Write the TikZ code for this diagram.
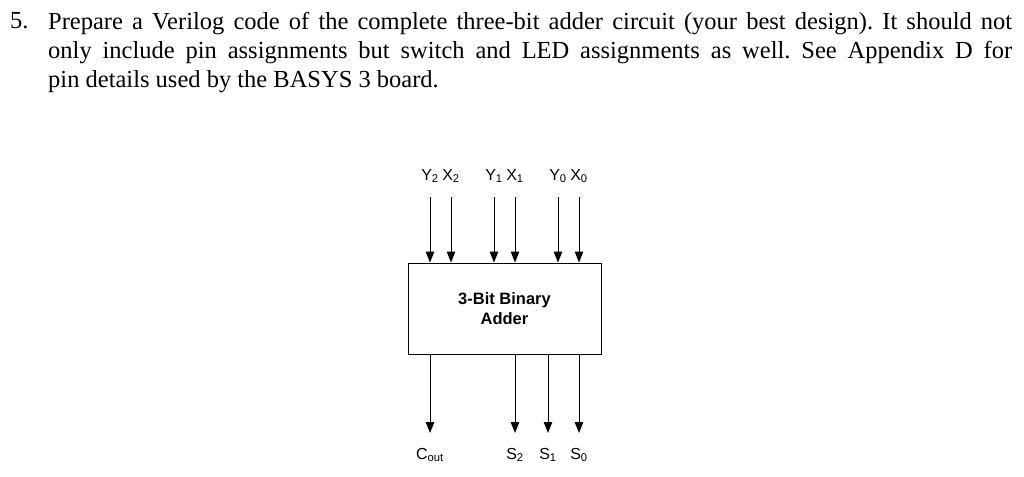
\documentclass[tikz,border=0pt]{standalone}
\usepackage{fontspec}
\setmainfont{Liberation Serif}
\newfontfamily\arial{Liberation Sans}
\usetikzlibrary{arrows.meta}
\newcommand{\sbs}[1]{\textsubscript{#1}}
\begin{document}
\begin{tikzpicture}[x=1pt,y=-1pt,
  sig/.style={-{Triangle[length=11pt,width=8.5pt]},line width=1pt},
  lab/.style={font=\arial\fontsize{16}{18}\selectfont,inner sep=0pt}]
\useasboundingbox (0,0) rectangle (1024,476);
\node[anchor=north west,inner sep=0pt] (num) at (10,12) {\fontsize{24.5}{29}\selectfont 5.};
\node[anchor=north west,inner sep=0pt,text width=964pt,align=justify] (txt) at (48,12)
 {\fontsize{24.5}{29}\selectfont\frenchspacing Prepare a Verilog code of the complete three-bit adder circuit (your best design). It should not\linebreak only include pin assignments but switch and LED assignments as well. See Appendix D for\linebreak pin details used by the BASYS 3 board.\par};
\node[draw,line width=1pt,minimum width=193pt,minimum height=91pt,inner sep=0pt,
  font=\arial\bfseries\fontsize{16.5}{20}\selectfont,align=center] (box) at (504.5,308.5) {3-Bit Binary\\Adder};
\foreach \x/\t/\n in {430/Y\sbs{2}/a,451/X\sbs{2}/b,494/Y\sbs{1}/c,515/X\sbs{1}/d,558/Y\sbs{0}/e,579/X\sbs{0}/f}{
  \node[lab] (l\n) at (\x,176) {\t};
  \coordinate (t\n) at (\x,197);
  \draw[sig] (t\n) -- (t\n |- box.north);
}
\foreach \x/\t/\n in {430/C\sbs{out}/g,515/S\sbs{2}/h,548/S\sbs{1}/i,579/S\sbs{0}/j}{
  \node[lab] (l\n) at (\x,455) {\t};
  \coordinate (t\n) at (\x,433);
  \draw[sig] (t\n |- box.south) -- (t\n);
}
\end{tikzpicture}
\end{document}
